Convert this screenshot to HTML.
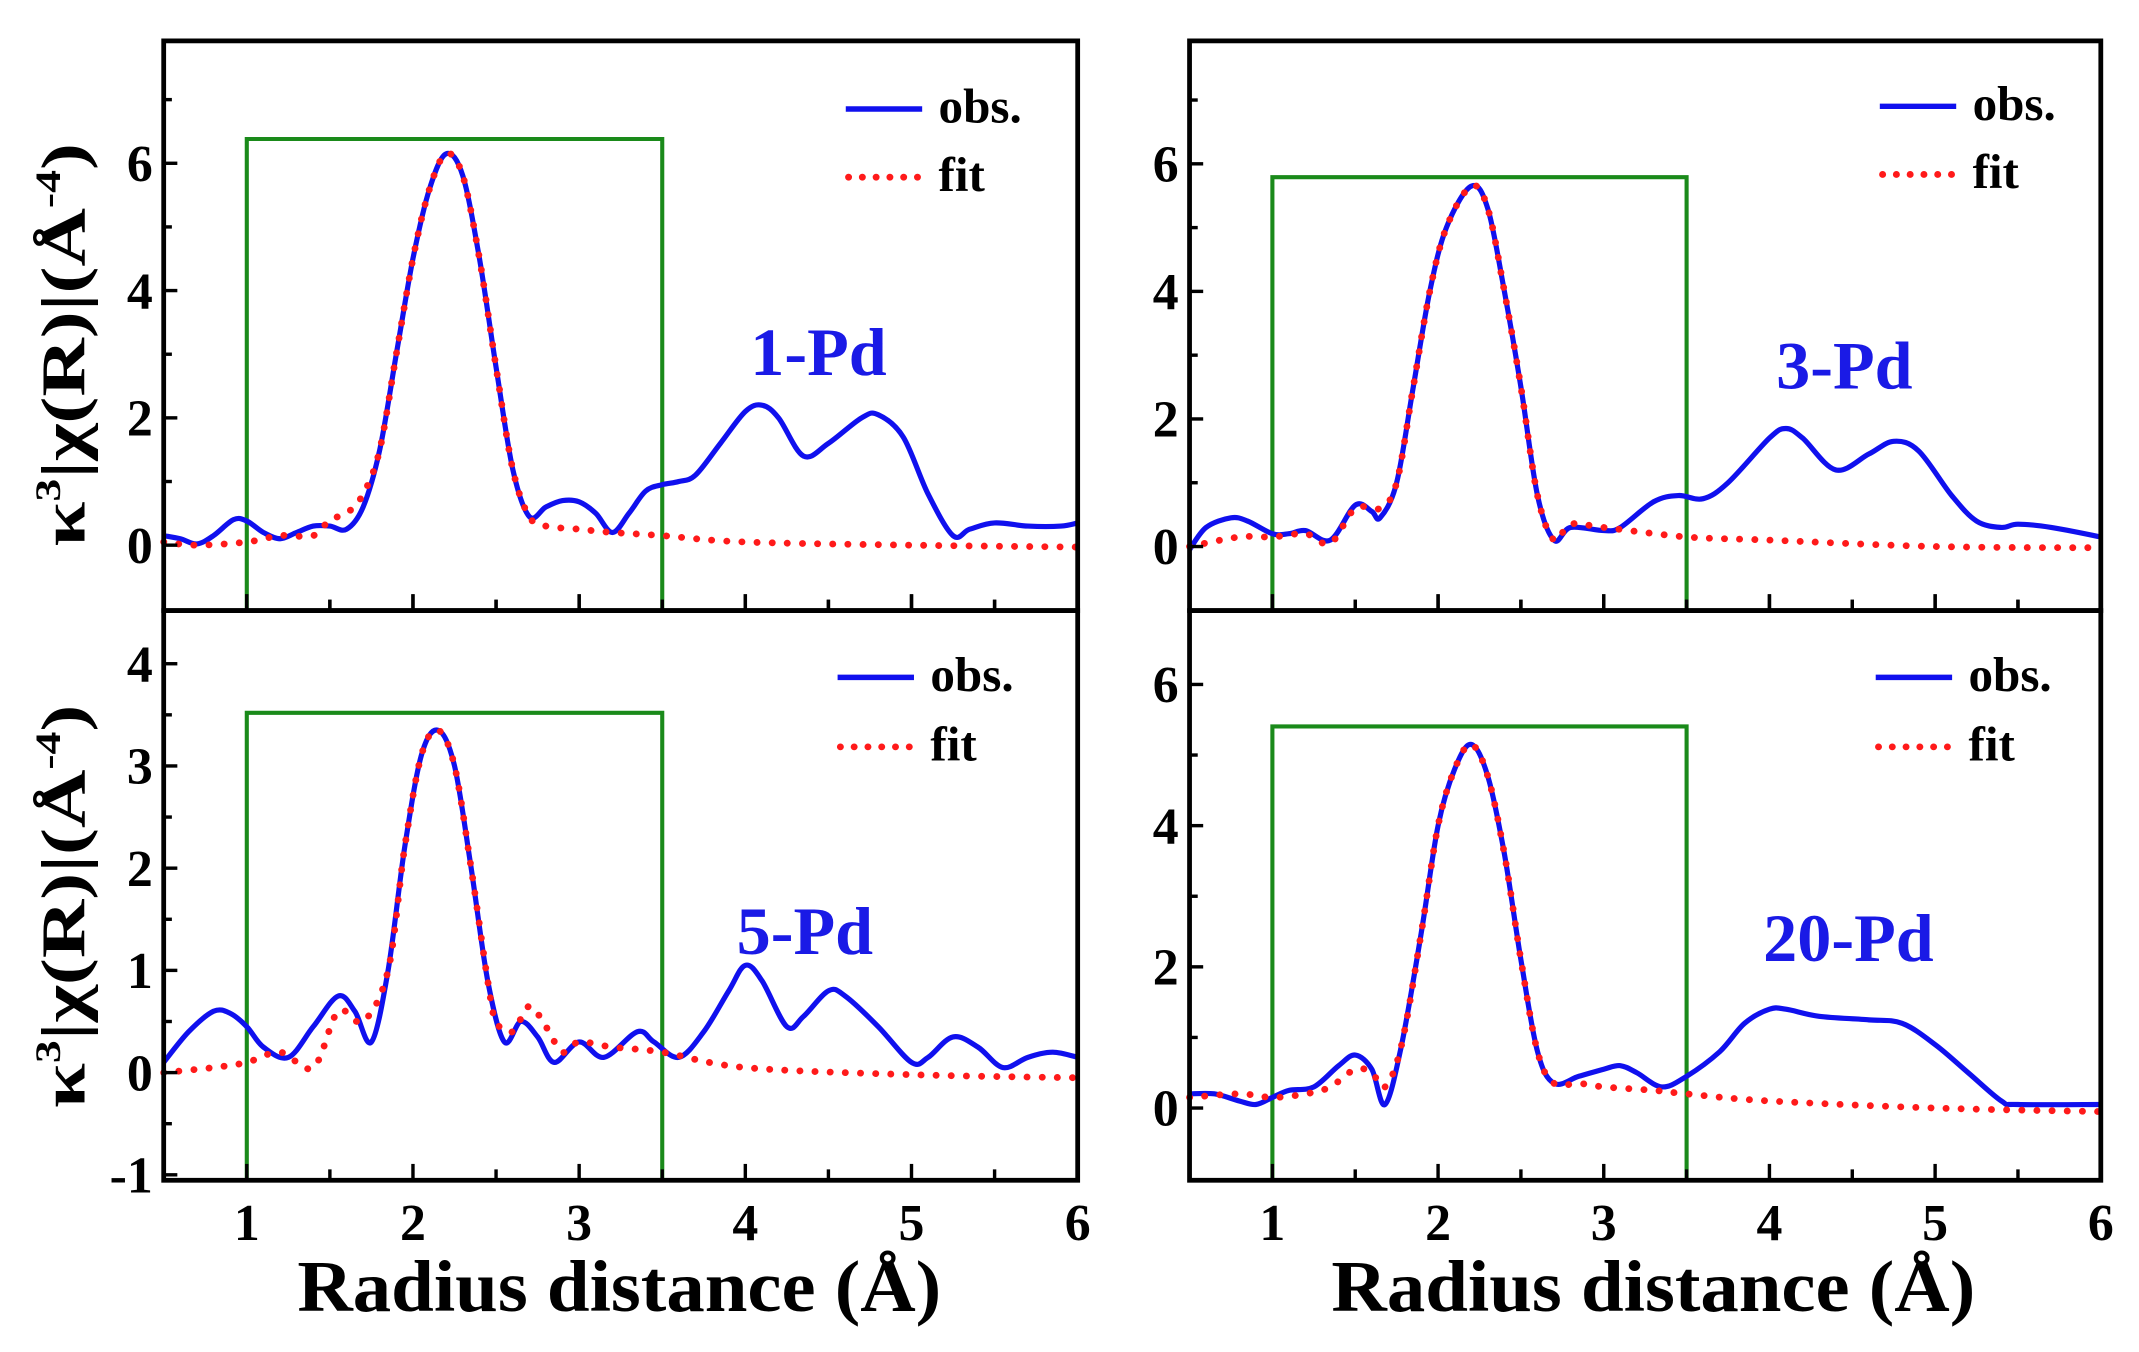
<!DOCTYPE html>
<html><head><meta charset="utf-8"><style>
html,body{margin:0;padding:0;background:#fff;}
svg{display:block;}
text{font-family:"Liberation Serif",serif;font-weight:bold;}
</style></head><body>
<svg id="s" width="2139" height="1352" viewBox="0 0 1568 992" preserveAspectRatio="none" xmlns="http://www.w3.org/2000/svg">
<rect width="1568" height="992" fill="#fff"/>
<g id="g"></g>
<text x="218" y="962" font-size="54" textLength="472" lengthAdjust="spacingAndGlyphs">Radius distance (Å)</text>
<text x="976" y="962" font-size="54" textLength="472" lengthAdjust="spacingAndGlyphs">Radius distance (Å)</text>
<text transform="translate(62,253) rotate(-90)" text-anchor="middle" font-size="46" textLength="296" lengthAdjust="spacingAndGlyphs">κ<tspan font-size="26" dy="-18">3</tspan><tspan dy="18">|χ(R)|(Å</tspan><tspan font-size="26" dy="-18">-4</tspan><tspan dy="18">)</tspan></text>
<text transform="translate(62,665) rotate(-90)" text-anchor="middle" font-size="46" textLength="296" lengthAdjust="spacingAndGlyphs">κ<tspan font-size="26" dy="-18">3</tspan><tspan dy="18">|χ(R)|(Å</tspan><tspan font-size="26" dy="-18">-4</tspan><tspan dy="18">)</tspan></text>
</svg>
<script>
const NS="http://www.w3.org/2000/svg",G=document.getElementById('g');
function el(t,a,txt){const e=document.createElementNS(NS,t);for(const k in a)e.setAttribute(k,a[k]);if(txt!=null)e.textContent=txt;G.appendChild(e);return e;}
const peak1=[[1.8,1.5],[1.9,3.0],[2.0,4.5],[2.1,5.6],[2.2,6.15],[2.3,5.8],[2.4,4.5],[2.5,2.8],[2.6,1.2],[2.7,0.45]];
const peak3=[[1.75,1.0],[1.85,2.5],[1.95,4.0],[2.05,5.0],[2.2,5.65],[2.3,5.3],[2.4,4.0],[2.5,2.5],[2.6,0.8],[2.7,0.1]];
const peak5=[[1.85,1.0],[1.95,2.2],[2.05,3.1],[2.15,3.35],[2.25,3.0],[2.35,2.0],[2.45,0.9]];
const peak20=[[1.78,0.9],[1.9,2.5],[2.0,4.0],[2.1,4.8],[2.2,5.15],[2.3,4.7],[2.4,3.6],[2.5,2.1],[2.6,0.8],[2.7,0.35]];
const P=[
{x0:120,x1:790,yt:30,yb:448,yt0:400,yunit:46.7,lab:'1-Pd',lx:600,ly:275,box:102,
 yticks:[[0,1],[1,0],[2,1],[3,0],[4,1],[5,0],[6,1],[7,0]],leg:[620,80,130],
 obs:[[0.5,0.15],[0.6,0.1],[0.7,0.02],[0.8,0.15],[0.92,0.4],[1.0,0.38],[1.1,0.2],[1.2,0.1],[1.3,0.2],[1.4,0.3],[1.5,0.3],[1.6,0.25],[1.7,0.6],...peak1,[2.8,0.6],[2.9,0.7],[3.0,0.68],[3.1,0.5],[3.2,0.2],[3.3,0.5],[3.4,0.85],[3.5,0.95],[3.6,1.0],[3.7,1.1],[3.85,1.6],[4.0,2.1],[4.1,2.2],[4.2,2.0],[4.35,1.4],[4.5,1.6],[4.7,2.0],[4.8,2.05],[4.95,1.7],[5.1,0.8],[5.25,0.15],[5.35,0.25],[5.5,0.35],[5.7,0.3],[5.9,0.3],[6.0,0.35]],
 fit:[[0.5,0.05],[0.7,0.0],[1.0,0.05],[1.2,0.15],[1.4,0.15],[1.5,0.4],[1.6,0.5],[1.7,0.8],...peak1,[2.8,0.3],[3.0,0.25],[3.2,0.2],[3.5,0.15],[4,0.05],[5,0.0],[6,-0.03]]},
{x0:872,x1:1540,yt:30,yb:448,yt0:401,yunit:46.8,lab:'3-Pd',lx:1352,ly:285,box:130,
 yticks:[[0,1],[1,0],[2,1],[3,0],[4,1],[5,0],[6,1],[7,0]],leg:[1378,78,128],
 obs:[[0.5,-0.05],[0.6,0.3],[0.75,0.45],[0.85,0.4],[1.0,0.2],[1.1,0.2],[1.2,0.25],[1.35,0.1],[1.5,0.65],[1.6,0.55],[1.65,0.45],...peak3,[2.8,0.3],[3.0,0.25],[3.1,0.3],[3.3,0.7],[3.45,0.8],[3.6,0.75],[3.75,1.0],[4.0,1.7],[4.1,1.85],[4.2,1.7],[4.4,1.2],[4.6,1.45],[4.75,1.65],[4.9,1.5],[5.1,0.8],[5.25,0.4],[5.4,0.3],[5.5,0.35],[5.7,0.3],[6.0,0.15]],
 fit:[[0.5,0.0],[0.8,0.15],[1.0,0.15],[1.2,0.2],[1.35,0.05],[1.5,0.6],[1.65,0.6],...peak3,[2.8,0.35],[3.0,0.3],[3.5,0.15],[4,0.1],[5,0.0],[6,-0.02]]},
{x0:120,x1:790,yt:448,yb:866,yt0:787,yunit:75,lab:'5-Pd',lx:590,ly:700,box:523,
 yticks:[[-1,1],[-0.5,0],[0,1],[0.5,0],[1,1],[1.5,0],[2,1],[2.5,0],[3,1],[3.5,0],[4,1]],leg:[614,497,548],
 obs:[[0.5,0.1],[0.65,0.4],[0.8,0.6],[0.9,0.58],[1.0,0.45],[1.1,0.25],[1.25,0.15],[1.4,0.45],[1.55,0.75],[1.65,0.6],[1.75,0.3],...peak5,[2.55,0.3],[2.65,0.5],[2.75,0.35],[2.85,0.1],[3.0,0.3],[3.15,0.15],[3.35,0.4],[3.45,0.3],[3.6,0.15],[3.75,0.4],[3.9,0.8],[4.0,1.05],[4.1,0.9],[4.25,0.45],[4.35,0.55],[4.5,0.8],[4.6,0.75],[4.8,0.45],[5.0,0.1],[5.1,0.15],[5.25,0.35],[5.4,0.25],[5.55,0.05],[5.7,0.15],[5.85,0.2],[6.0,0.15]],
 fit:[[0.5,0.0],[0.8,0.05],[1.0,0.1],[1.2,0.2],[1.4,0.05],[1.55,0.6],[1.7,0.5],...peak5,[2.5,0.5],[2.6,0.4],[2.7,0.65],[2.8,0.45],[2.9,0.2],[3.0,0.3],[3.2,0.25],[3.5,0.2],[4,0.05],[5,-0.02],[6,-0.05]]},
{x0:872,x1:1540,yt:448,yb:866,yt0:813,yunit:51.8,lab:'20-Pd',lx:1355,ly:705,box:533,
 yticks:[[0,1],[1,0],[2,1],[3,0],[4,1],[5,0],[6,1]],leg:[1375,497,548],
 obs:[[0.5,0.2],[0.65,0.2],[0.8,0.1],[0.9,0.05],[1.0,0.15],[1.1,0.25],[1.25,0.3],[1.4,0.6],[1.5,0.75],[1.6,0.55],[1.68,0.05],...peak20,[2.85,0.45],[3.0,0.55],[3.1,0.6],[3.2,0.5],[3.35,0.3],[3.5,0.45],[3.7,0.8],[3.85,1.2],[4.0,1.4],[4.1,1.4],[4.3,1.3],[4.6,1.25],[4.8,1.2],[5.0,0.9],[5.2,0.5],[5.4,0.1],[5.5,0.05],[6.0,0.05]],
 fit:[[0.5,0.15],[0.8,0.2],[1.0,0.15],[1.2,0.2],[1.35,0.3],[1.5,0.55],[1.6,0.5],[1.68,0.3],...peak20,[2.85,0.35],[3.0,0.3],[3.3,0.25],[3.5,0.2],[4,0.1],[5,0.0],[6,-0.05]]}
];
function path(pts){let d='M'+pts[0][0].toFixed(1)+','+pts[0][1].toFixed(1);
 for(let i=0;i<pts.length-1;i++){const p0=pts[Math.max(0,i-1)],p1=pts[i],p2=pts[i+1],p3=pts[Math.min(pts.length-1,i+2)];
 const c1=[p1[0]+(p2[0]-p0[0])/6,p1[1]+(p2[1]-p0[1])/6],c2=[p2[0]-(p3[0]-p1[0])/6,p2[1]-(p3[1]-p1[1])/6];
 d+=' C'+c1.map(v=>v.toFixed(1))+' '+c2.map(v=>v.toFixed(1))+' '+p2.map(v=>v.toFixed(1));}return d;}
P.forEach(p=>{
 const ux=(p.x1-p.x0)/5.5, X=v=>p.x0+(v-0.5)*ux, Y=v=>p.yt0-v*p.yunit;
 el('polyline',{points:`${X(1)},${p.yb} ${X(1)},${p.box} ${X(3.5)},${p.box} ${X(3.5)},${p.yb}`,fill:'none',stroke:'#1a8a1a','stroke-width':3});
 el('path',{d:path(p.obs.map(q=>[X(q[0]),Y(q[1])])),fill:'none',stroke:'#1010ee','stroke-width':3.8});
 el('path',{d:path(p.fit.map(q=>[X(q[0]),Y(q[1])])),fill:'none',stroke:'#ff1a1a','stroke-width':5,'stroke-dasharray':'0.1 11','stroke-linecap':'round'});
 el('rect',{x:p.x0,y:p.yt,width:p.x1-p.x0,height:p.yb-p.yt,fill:'none',stroke:'#000','stroke-width':3.5});
 for(let v=1;v<=6;v+=0.5){const x=X(v),L=(v%1===0)?12:8;
  el('line',{x1:x,y1:p.yb,x2:x,y2:p.yb-L,stroke:'#000','stroke-width':2.5});
  if(p.yt===448) el('line',{x1:x,y1:p.yt,x2:x,y2:p.yt-L,stroke:'#000','stroke-width':2.5});
  if(p.yb===866 && v%1===0) el('text',{x:x,y:910,'font-size':38,'text-anchor':'middle'},String(v));}
 p.yticks.forEach(([v,m])=>{const y=Y(v);el('line',{x1:p.x0,y1:y,x2:p.x0+(m?10:6),y2:y,stroke:'#000','stroke-width':2.5});
  if(m) el('text',{x:p.x0-8,y:y+13,'font-size':38,'text-anchor':'end'},String(v));});
 el('text',{x:p.lx,y:p.ly,'font-size':50,'text-anchor':'middle',fill:'#1a1ae6'},p.lab);
 const [lx,y1,y2]=p.leg;
 el('line',{x1:lx,y1:y1,x2:lx+56,y2:y1,stroke:'#1010ee','stroke-width':4});
 el('line',{x1:lx+2,y1:y2,x2:lx+56,y2:y2,stroke:'#ff1a1a','stroke-width':5,'stroke-dasharray':'0.1 10','stroke-linecap':'round'});
 el('text',{x:lx+68,y:y1+10,'font-size':36},'obs.');
 el('text',{x:lx+68,y:y2+10,'font-size':36},'fit');
});
</script>
</body></html>
